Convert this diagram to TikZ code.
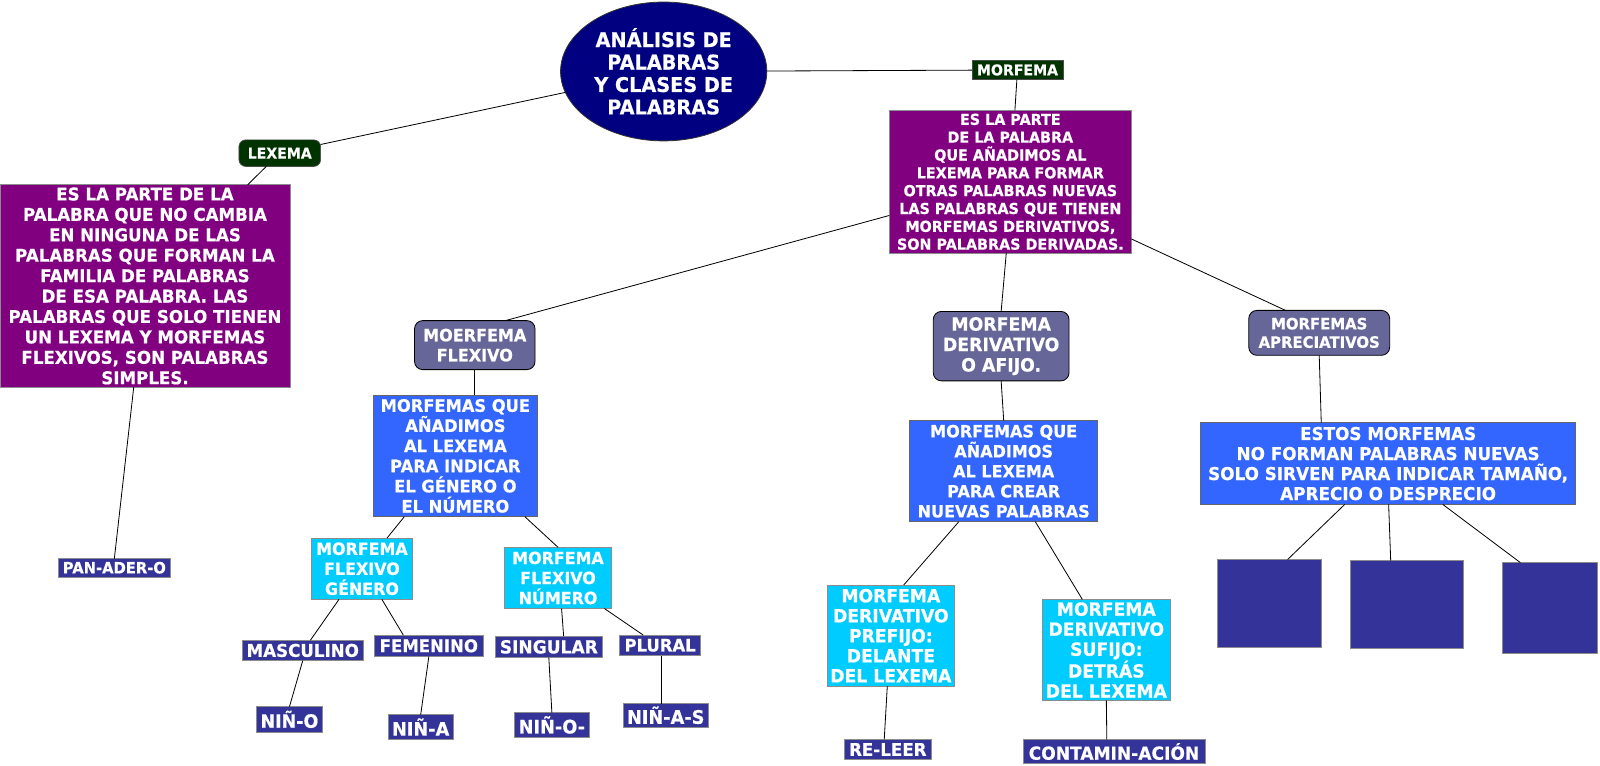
\documentclass[tikz,border=0pt]{standalone}
\usepackage{fontspec}
\setmainfont{DejaVu Sans}[FakeStretch=0.95,BoldFeatures={FakeBold=0.6}]
\usetikzlibrary{calc,shapes.geometric}
\definecolor{navyc}{HTML}{000080}
\definecolor{greenc}{HTML}{003300}
\definecolor{purplec}{HTML}{800080}
\definecolor{greyc}{HTML}{666699}
\definecolor{bluec}{HTML}{3366FF}
\definecolor{cyanc}{HTML}{00CCFF}
\definecolor{indigoc}{HTML}{333399}
\begin{document}
\begin{tikzpicture}[x=0.75pt,y=-0.75pt,
  every node/.style={inner sep=0pt,outer sep=0pt,text=white,align=center,font=\bfseries},
  sz/.style 2 args={minimum width=#1*0.75pt,minimum height=#2*0.75pt},
  fs/.style 2 args={font=\bfseries\fontsize{#1}{#2}\selectfont},
  titlebox/.style={rectangle,fill=greenc,draw=black!70,line width=0.5pt},
  purplebox/.style={rectangle,fill=purplec,draw=black!45,line width=0.5pt},
  greybox/.style={rectangle,rounded corners=6pt,fill=greyc,draw=black,line width=0.6pt},
  bluebox/.style={rectangle,fill=bluec,draw=black!60,line width=0.5pt},
  cyanbox/.style={rectangle,fill=cyanc,draw=black!45,line width=0.5pt},
  darkbox/.style={rectangle,fill=indigoc,draw=black!45,line width=0.5pt},
  link/.style={draw=black,line width=0.6pt}]
\useasboundingbox (0,0) rectangle (1567,750);

% main
\node[ellipse,fill=navyc,draw=black!80,line width=0.6pt,sz={202}{136},fs={14.9}{16.5}] (ell) at (650,70) {ANÁLISIS DE\\PALABRAS\\Y CLASES DE\\PALABRAS};
\node[titlebox,rounded corners=5pt,sz={80}{26},fs={10.9}{13}] (lex) at (274,150) {LEXEMA};
\node[titlebox,sz={89}{19},fs={10.9}{13}] (mor) at (996.5,68.5) {MORFEMA};

\node[purplebox,sz={284}{198},fs={12.9}{15}] (pl) at (142,280) {ES LA PARTE DE LA\\PALABRA QUE NO CAMBIA\\EN NINGUNA DE LAS\\PALABRAS QUE FORMAN LA\\FAMILIA DE PALABRAS\\DE ESA PALABRA. LAS\\PALABRAS QUE SOLO TIENEN\\UN LEXEMA Y MORFEMAS\\FLEXIVOS, SON PALABRAS\\SIMPLES.};
\node[purplebox,sz={237}{140},fs={11.1}{13.1}] (pr) at (989.5,178) {ES LA PARTE\\DE LA PALABRA\\QUE AÑADIMOS AL\\LEXEMA PARA FORMAR\\OTRAS PALABRAS NUEVAS\\LAS PALABRAS QUE TIENEN\\MORFEMAS DERIVATIVOS,\\SON PALABRAS DERIVADAS.};

\node[darkbox,sz={110}{18},fs={11.4}{13}] (pan) at (112,556) {PAN-ADER-O};

% second level
\node[greybox,sz={118}{48},fs={12.4}{14.7}] (gr1) at (465,338) {MOERFEMA\\FLEXIVO};
\node[greybox,sz={133}{68},fs={13.4}{15}] (gr2) at (980.5,339) {MORFEMA\\DERIVATIVO\\O AFIJO.};
\node[greybox,sz={138}{44},fs={11.5}{13.5}] (gr3) at (1292,326) {MORFEMAS\\APRECIATIVOS};

\node[bluebox,sz={160}{119},fs={12.6}{14.8}] (b1) at (446,446.5) {MORFEMAS QUE\\AÑADIMOS\\AL LEXEMA\\PARA INDICAR\\EL GÉNERO O\\EL NÚMERO};
\node[bluebox,sz={184}{99},fs={12.4}{14.7}] (b2) at (983,461.5) {MORFEMAS QUE\\AÑADIMOS\\AL LEXEMA\\PARA CREAR\\NUEVAS PALABRAS};
\node[bluebox,sz={367}{80},fs={13}{14.7}] (b3) at (1359.5,454) {ESTOS MORFEMAS\\NO FORMAN PALABRAS NUEVAS\\SOLO SIRVEN PARA INDICAR TAMAÑO,\\APRECIO O DESPRECIO};

% flexivos
\node[cyanbox,sz={99}{60},fs={12.3}{14.7}] (cg) at (354.5,557) {MORFEMA\\FLEXIVO\\GÉNERO};
\node[cyanbox,sz={105}{60},fs={12.3}{14.7}] (cn) at (546.5,566) {MORFEMA\\FLEXIVO\\NÚMERO};
\node[darkbox,sz={119}{20},fs={12.9}{14}] (masc) at (296.5,637) {MASCULINO};
\node[darkbox,sz={106}{21},fs={12.8}{14}] (fem) at (420,632.5) {FEMENINO};
\node[darkbox,sz={105}{21},fs={13.2}{14}] (sing) at (537.5,633.5) {SINGULAR};
\node[darkbox,sz={79}{20},fs={12.7}{14}] (plur) at (646.5,632) {PLURAL};
\node[darkbox,sz={65}{25},fs={13.5}{15}] (n1) at (283.5,704.5) {NIÑ-O};
\node[darkbox,sz={64}{24},fs={13.7}{15}] (n2) at (412,712) {NIÑ-A};
\node[darkbox,sz={73}{24},fs={13.7}{15}] (n3) at (540.5,710) {NIÑ-O-};
\node[darkbox,sz={84}{23},fs={13.7}{15}] (n4) at (652,700.5) {NIÑ-A-S};

% derivativos
\node[cyanbox,sz={125}{99},fs={13.3}{14.7}] (cp) at (872.5,622.5) {MORFEMA\\DERIVATIVO\\PREFIJO:\\DELANTE\\DEL LEXEMA};
\node[cyanbox,sz={125}{99},fs={13.3}{14.7}] (cs) at (1083.5,636.5) {MORFEMA\\DERIVATIVO\\SUFIJO:\\DETRÁS\\DEL LEXEMA};
\node[darkbox,sz={85}{20},fs={12.9}{14}] (rl) at (869.5,734) {RE-LEER};
\node[darkbox,sz={178}{24},fs={13.2}{14}] (ca) at (1091,736) {CONTAMIN-ACIÓN};

% apreciativos
\node[darkbox,sz={102}{86}] (sq1) at (1243,591) {};
\node[darkbox,sz={111}{86}] (sq2) at (1377.5,592) {};
\node[darkbox,sz={93}{89}] (sq3) at (1517.5,595.5) {};

% connectors
\draw[link] (ell) -- (lex);
\draw[link] (ell) -- (mor);
\draw[link] (lex) -- (pl);
\draw[link] (mor) -- (pr);
\draw[link] ($(pl.south)+(-11,0)$) -- (pan.north);
\draw[link] ($(pr.west)+(0,33)$) -- ($(gr1.north)+(30,0)$);
\draw[link] ($(pr.south)+(-4,0)$) -- (gr2.north);
\draw[link] ($(pr.east)+(0,56)$) -- ($(gr3.north)+(-33,0)$);
\draw[link] (gr1.south) -- (gr1.south |- b1.north);
\draw[link] ($(b1.south)+(-50,0)$) -- ($(cg.north)+(24.5,0)$);
\draw[link] ($(b1.south)+(68,0)$) -- (cn.north);
\draw[link] ($(cg.south)+(-22.5,0)$) -- ($(masc.north)+(7.5,0)$);
\draw[link] ($(cg.south)+(19.5,0)$) -- ($(fem.north)+(-25,0)$);
\draw[link] ($(cn.south)+(3.5,0)$) -- ($(sing.north)+(14.5,0)$);
\draw[link] ($(cn.south)+(45.5,0)$) -- ($(plur.north)+(-16.5,0)$);
\draw[link] (masc.south) -- (n1.north);
\draw[link] (fem.south) -- (n2.north);
\draw[link] (sing.south) -- (n3.north);
\draw[link] ($(plur.south)+(1.5,0)$) -- ($(n4.north)+(-4,0)$);
\draw[link] (gr2.south) -- (b2.north);
\draw[link] ($(b2.south)+(-44,0)$) -- ($(cp.north)+(12.5,0)$);
\draw[link] ($(b2.south)+(31,0)$) -- ($(cs.north)+(-23.5,0)$);
\draw[link] ($(cp.south)+(-3.5,0)$) -- ($(rl.north)+(-3.5,0)$);
\draw[link] (cs.south) -- ($(ca.north)+(-7,0)$);
\draw[link] (gr3.south) -- ($(b3.north)+(-65.5,0)$);
\draw[link] ($(b3.south)+(-42.5,0)$) -- ($(sq1.north)+(18,0)$);
\draw[link] ($(b3.south)+(0.5,0)$) -- ($(sq2.north)+(-15.5,0)$);
\draw[link] ($(b3.south)+(53.5,0)$) -- ($(sq3.north)+(-28.5,0)$);
\end{tikzpicture}
\end{document}
